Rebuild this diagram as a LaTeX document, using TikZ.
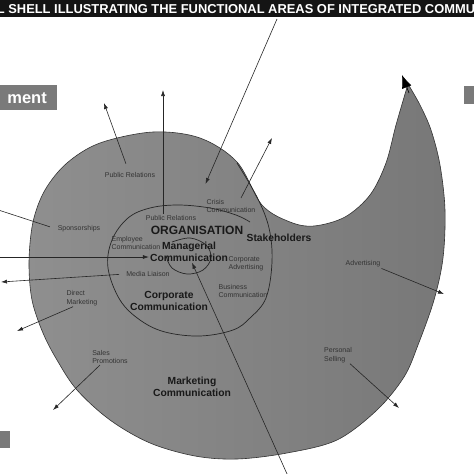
\documentclass[tikz,border=0pt]{standalone}
\usepackage{fontspec}
\setmainfont{Liberation Sans}
\usetikzlibrary{positioning,arrows.meta}
\tikzset{>={Latex[length=6pt,width=4pt]}}
\tikzset{
  small/.style={font=\fontsize{7}{8.5}\selectfont, text=black!80, inner sep=1pt, align=left},
  area/.style={font=\bfseries\fontsize{10.3}{11.5}\selectfont, text=black!90, inner sep=1pt, align=center},
  conn/.style={->, draw=black!85, line width=0.6pt},
  greybox/.style={fill=black!52},
  whorl/.style={draw=black!85, line width=0.7pt},
}

\begin{document}
\begin{tikzpicture}[x=1pt, y=-1pt]
  \useasboundingbox (0,0) rectangle (474,474);
  \clip (0,0) rectangle (474,474);

  % title bar and side boxes
  \fill[black!92] (0,0) rectangle (474,17);
  \node[text=white, font=\bfseries\fontsize{12.9}{14}\selectfont, inner sep=0pt] (title) at (236,9.5) {L SHELL ILLUSTRATING THE FUNCTIONAL AREAS OF INTEGRATED COMMU};
  \fill[greybox] (0,85) rectangle (57,110);
  \node[anchor=east, text=white, font=\bfseries\fontsize{16.5}{18}\selectfont, inner sep=0pt] (ment) at (47,98) {ment};
  \fill[greybox] (464,86) rectangle (474,104);
  \fill[greybox] (0,431) rectangle (10,448);

  % the shell
  \path[draw=black!80, line width=0.6pt, left color=black!44, right color=black!53]
    plot[smooth, tension=0.55] coordinates {(408,84) (420,105) (431,130) (440,165) (445,210) (443,258) (434,300) (418,345) (404,377) (377,410) (337,440) (287,453) (237,459) (195,456) (150,443) (110,420) (77,390) (57,360) (43,333) (32,300) (29,262) (33,222) (45,190) (67,163) (100,143) (153,132) (200,138) (237,162) (262,205) (290,222) (314,226) (345,217) (370,195) (386,163) (396,125) (408,84)} -- cycle;
  \coordinate (horn) at (409,93);
  \coordinate (horntip) at (402,75);
  \draw[-{Latex[length=13pt,width=10pt]}, black, line width=0.6pt] (horn) -- (horntip);

  % inner whorls
  \draw[whorl] plot[smooth, tension=0.6] coordinates {(237,163) (257,197) (269,228) (272,262) (266,298) (250,318) (233,330) (200,336) (165,332) (140,320) (120,300) (108,268) (112,240) (128,218) (150,208) (178,205) (210,208) (236,215) (250,222)};
  \draw[whorl] plot[smooth, tension=0.6] coordinates {(172,242) (190,238) (206,245) (211,258) (203,270) (187,274) (172,268) (166,256)};

  % outer labels
  \node[small] (prout) at (130,175) {Public Relations};
  \node[small] (spons) at (79,229) {Sponsorships};
  \node[small] (dmark) at (82,298) {Direct\\Marketing};
  \node[small] (sprom) at (110,357) {Sales\\Promotions};
  \node[small] (psell) at (338,355) {Personal\\Selling};
  \node[small] (advert) at (363,264) {Advertising};

  % inner labels
  \node[small] (crisis) at (231,206) {Crisis\\Communication};
  \node[small] (prin) at (171,218) {Public Relations};
  \node[small] (empl) at (136,243) {Employee\\Communication};
  \node[small] (mliaison) at (148,274) {Media Liaison};
  \node[small] (cadv) at (246,264) {Corporate\\Advertising};
  \node[small] (bcomm) at (243,291) {Business\\Communication};

  \node[font=\bfseries\fontsize{12}{14}\selectfont, text=black!90, inner sep=1pt] (org) at (197,230) {ORGANISATION};
  \node[area] (stake) at (279,238) {Stakeholders};
  \node[area] (mgr) at (189,252) {Managerial\\Communication};
  \node[area] (corp) at (169,301) {Corporate\\Communication};
  \node[area] (mkt) at (192,387) {Marketing\\Communication};

  % connectors
  \coordinate (prtip) at (104,103);
  \coordinate (uptip) at (163,90);
  \coordinate (sptip) at (-20,204);
  \coordinate (hzstart) at (-10,257);
  \coordinate (mltip) at (1,282);
  \coordinate (dmtip) at (17,331);
  \coordinate (salestip) at (53,410);
  \coordinate (selltip) at (399,408);
  \coordinate (advtip) at (444,294);
  \coordinate (crtip) at (272,138);
  \coordinate (topstart) at (277,19);
  \coordinate (botstart) at (292,485);

  \draw[conn, shorten <=8pt] (prout) -- (prtip);
  \draw[conn] (prin.north -| uptip) -- (uptip);
  \draw[conn, shorten <=7pt] (spons.west) -- (sptip);
  \draw[conn] (hzstart) -- (hzstart -| mgr.west);
  \draw[conn, shorten <=6pt] (mliaison.west) -- (mltip);
  \draw[conn] ([xshift=-9pt]dmark.south) -- (dmtip);
  \draw[conn] ([xshift=-10pt]sprom.south) -- (salestip);
  \draw[conn] ([xshift=12pt]psell.south) -- (selltip);
  \draw[conn] (advert.south east) -- (advtip);
  \draw[conn] ([xshift=10pt]crisis.north) -- (crtip);
  \draw[conn] (topstart) -- ([yshift=14pt]crisis.north west);
  \draw[conn] (botstart) -- ([xshift=3pt]mgr.south);
\end{tikzpicture}
\end{document}
